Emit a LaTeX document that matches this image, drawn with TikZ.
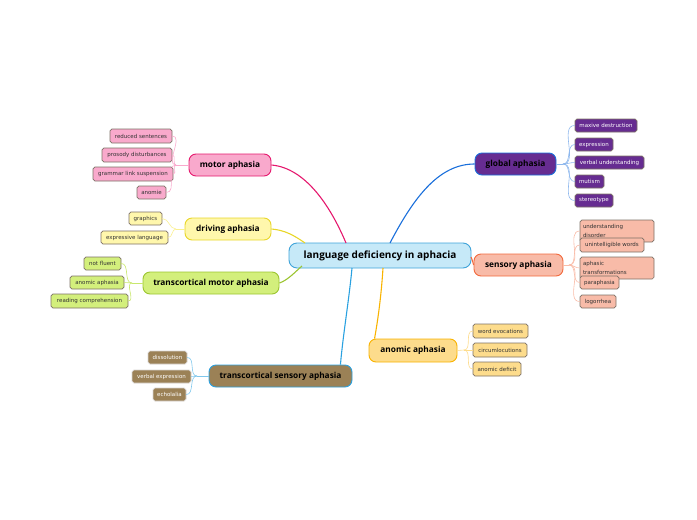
\documentclass[tikz,border=0pt]{standalone}
\usepackage{fontspec}
\setmainfont{Open Sans}
\newfontfamily\subfont{DejaVu Sans}
\usetikzlibrary{calc}
\definecolor{cenfill}{HTML}{C6E9F8}\definecolor{cendraw}{HTML}{3FA3D9}
\definecolor{motfill}{HTML}{F9A9CC}\definecolor{motdraw}{HTML}{E5196E}
\definecolor{drvfill}{HTML}{FFF7AC}\definecolor{drvdraw}{HTML}{E8D629}
\definecolor{tmfill}{HTML}{D3EF7C}\definecolor{tmdraw}{HTML}{9CC531}
\definecolor{tsfill}{HTML}{9B8156}\definecolor{tsdraw}{HTML}{2AA1E0}
\definecolor{anfill}{HTML}{FDDC8C}\definecolor{andraw}{HTML}{F9B300}
\definecolor{glfill}{HTML}{662C91}\definecolor{gldraw}{HTML}{1A6FDB}
\definecolor{snfill}{HTML}{F8BBA8}\definecolor{sndraw}{HTML}{F26A3D}
\definecolor{subborder}{HTML}{7D7166}
\definecolor{subtext}{HTML}{333333}
\tikzset{
  mainbox/.style={draw, rounded corners=7pt, line width=0.9pt, inner sep=0pt, font=\fontsize{8.3}{10}\selectfont\bfseries, text=black},
  cenbox/.style={draw=cendraw, fill=cenfill, rounded corners=8pt, line width=0.9pt, inner sep=0pt, font=\fontsize{10}{12}\selectfont\bfseries, text=black},
  subbox/.style={draw=subborder, rounded corners=1.8pt, line width=0.65pt, inner sep=0pt, font=\subfont\fontsize{5.5}{9}\selectfont, text=subtext},
  wsub/.style={subbox, draw=white!70!subborder, text=white},
  link/.style={line width=1.1pt},
  twig/.style={line width=0.6pt}
}
\newcommand\mmnode[7]{%
  \node[#2, minimum width={(#5-#3)*1pt}, minimum height={(#6-#4)*1pt}] (#1) at ({(#3+#5)/2},{(#4+#6)/2}) {#7};}
\begin{document}
\begin{tikzpicture}[x=1pt,y=-1pt]
\useasboundingbox (0,0) rectangle (697,520);
% ---- main links start points on the central node
\coordinate (c1) at (346,243);
\coordinate (c2) at (305,243);
\coordinate (c3) at (302,266);
\coordinate (c4) at (352,268);
\coordinate (c5) at (383,268);
\coordinate (c6) at (390,243);
\coordinate (c7) at (471,257);
% ---- main nodes
\mmnode{cen}{cenbox}{289}{243}{471}{268}{language deficiency in aphacia}
\mmnode{mot}{mainbox, draw=motdraw, fill=motfill}{189}{154}{271}{176}{motor aphasia}
\mmnode{drv}{mainbox, draw=drvdraw, fill=drvfill}{185}{218}{271}{240}{driving aphasia}
\mmnode{tm}{mainbox, draw=tmdraw, fill=tmfill}{143}{272}{279}{294}{transcortical motor aphasia}
\mmnode{ts}{mainbox, draw=tsdraw, fill=tsfill}{209}{365}{352}{387}{transcortical sensory aphasia}
\mmnode{an}{mainbox, draw=andraw, fill=anfill}{369}{339}{457}{362}{anomic aphasia}
\mmnode{gl}{mainbox, draw=gldraw, fill=glfill}{475}{153}{556}{175}{global aphasia}
\mmnode{sn}{mainbox, draw=sndraw, fill=snfill}{474}{254}{563}{276}{sensory aphasia}
\draw[link, motdraw] (c1) .. controls (330,205) and (305,168) .. (mot.east);
\draw[link, drvdraw] (c2) .. controls (295,236) and (285,230) .. (drv.east);
\draw[link, tmdraw] (c3) .. controls (295,272) and (288,280) .. (tm.east);
\draw[link, tsdraw] (c4) .. controls (349,300) and (343,335) .. ([xshift=-12pt]ts.north east);
\draw[link, andraw] (c5) .. controls (381,300) and (377,325) .. ([xshift=6pt]an.north west);
\draw[link, gldraw] (c6) .. controls (415,195) and (440,164) .. (gl.west);
\draw[link, sndraw] (c7) .. controls (473,262) .. (sn.west);
% ---- motor subs
\mmnode{m1}{subbox, fill=motfill}{110}{129}{172}{143}{reduced sentences}
\mmnode{m2}{subbox, fill=motfill}{102}{148}{172}{162}{prosody disturbances}
\mmnode{m3}{subbox, fill=motfill}{93}{167}{173}{181}{grammar link suspension}
\mmnode{m4}{subbox, fill=motfill}{137}{186}{166}{199}{anomie}
\coordinate (mj) at (176,165);
\draw[twig, motfill] (mot.west) -- (mj);
\foreach \s in {m1,m2,m3,m4} \draw[twig, motfill] (mj) to[out=180,in=0] (\s.east);
% ---- driving subs
\mmnode{d1}{subbox, fill=drvfill}{129}{212}{162}{225}{graphics}
\mmnode{d2}{subbox, fill=drvfill}{101}{231}{168}{244}{expressive language}
\coordinate (dj) at (176,229);
\draw[twig, drvfill!80!drvdraw] (drv.west) -- (dj);
\foreach \s in {d1,d2} \draw[twig, drvfill!80!drvdraw] (dj) to[out=180,in=0] (\s.east);
% ---- transcortical motor subs
\mmnode{t1}{subbox, fill=tmfill}{84}{257}{121}{270}{not fluent}
\mmnode{t2}{subbox, fill=tmfill}{70}{276}{124}{289}{anomic aphasia}
\mmnode{t3}{subbox, fill=tmfill}{51}{294}{128}{308}{reading comprehension}
\coordinate (tj) at (132,283);
\draw[twig, tmfill!80!tmdraw] (tm.west) -- (tj);
\foreach \s in {t1,t2,t3} \draw[twig, tmfill!80!tmdraw] (tj) to[out=180,in=0] (\s.east);
% ---- transcortical sensory subs
\mmnode{s1}{wsub, fill=tsfill}{148}{351}{187}{364}{dissolution}
\mmnode{s2}{wsub, fill=tsfill}{132}{370}{191}{383}{verbal expression}
\mmnode{s3}{wsub, fill=tsfill}{153}{388}{186}{401}{echolalia}
\coordinate (sj) at (197,376);
\draw[twig, tsdraw!60] (ts.west) -- (sj);
\foreach \s in {s1,s2,s3} \draw[twig, tsdraw!60] (sj) to[out=180,in=0] (\s.east);
% ---- anomic subs
\mmnode{a1}{subbox, fill=anfill}{473}{324}{528}{338}{word evocations}
\mmnode{a2}{subbox, fill=anfill}{473}{343}{527}{357}{circumlocutions}
\mmnode{a3}{subbox, fill=anfill}{473}{362}{521}{376}{anomic deficit}
\coordinate (aj) at (464,350);
\draw[twig, anfill] (an.east) -- (aj);
\foreach \s in {a1,a2,a3} \draw[twig, anfill] (aj) to[out=0,in=180] (\s.west);
% ---- global subs
\mmnode{g1}{subbox, fill=glfill, text=white}{575}{119}{637}{132}{maxive destruction}
\mmnode{g2}{subbox, fill=glfill, text=white}{575}{138}{613}{151}{expression}
\mmnode{g3}{subbox, fill=glfill, text=white}{575}{156}{644}{169}{verbal understanding}
\mmnode{g4}{subbox, fill=glfill, text=white}{575}{175}{604}{188}{mutism}
\mmnode{g5}{subbox, fill=glfill, text=white}{575}{194}{613}{207}{stereotype}
\coordinate (gj) at (563,164);
\draw[twig, gldraw!50] (gl.east) -- (gj);
\foreach \s in {g1,g2,g3,g4,g5} \draw[twig, gldraw!50] (gj) to[out=0,in=180] (\s.west);
% ---- sensory subs
\coordinate (nj) at (569,265);
\draw[twig, sndraw!45] (sn.east) -- (nj);
\mmnode{n1}{subbox, fill=snfill, text width=68pt, align=left}{580}{220}{654}{242}{understanding\\disorder}
\mmnode{n2}{subbox, fill=snfill}{580}{238}{644}{252}{unintelligible words}
\mmnode{n3}{subbox, fill=snfill, text width=68pt, align=left}{580}{257}{654}{279}{aphasic\\transformations}
\mmnode{n4}{subbox, fill=snfill}{580}{276}{619}{289}{paraphasia}
\mmnode{n5}{subbox, fill=snfill}{580}{295}{616}{308}{logorrhea}
\foreach \s in {n1,n2,n3,n4,n5} \draw[twig, sndraw!45] (nj) to[out=0,in=180] (\s.west);
\end{tikzpicture}
\end{document}
